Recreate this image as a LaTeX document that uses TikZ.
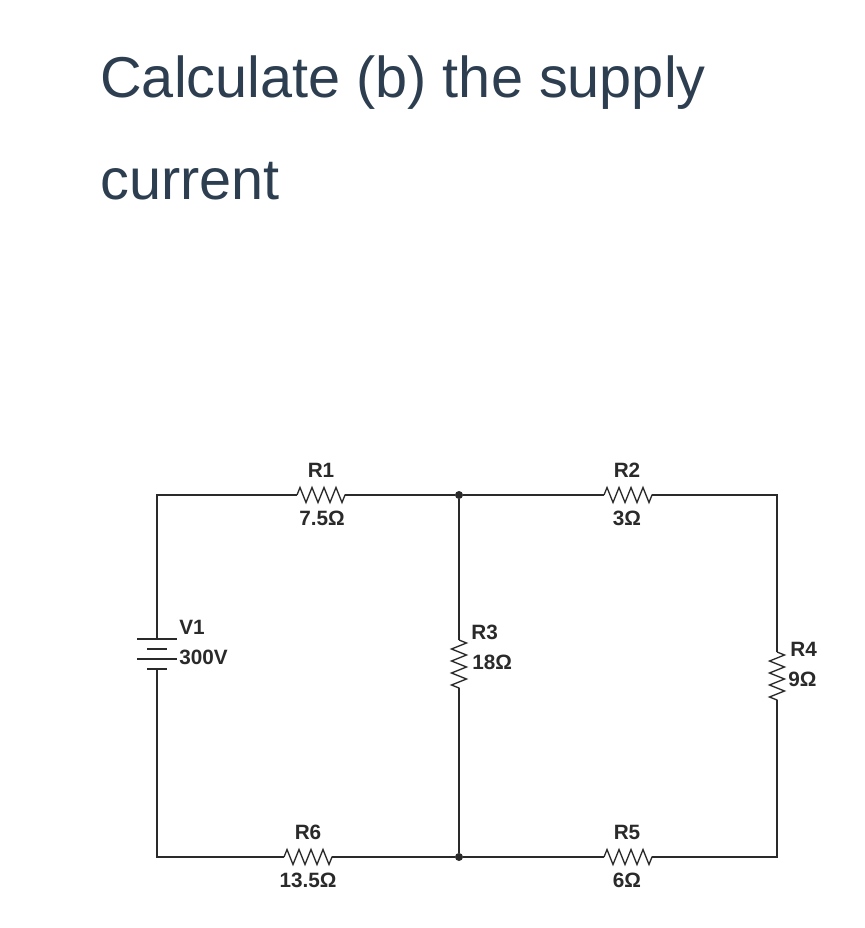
\documentclass[tikz,border=0pt]{standalone}
\usepackage{fontspec}
\setmainfont{Liberation Sans}
\usetikzlibrary{calc,decorations.pathmorphing}
\definecolor{headcolor}{HTML}{2C3E50}
\definecolor{wirecolor}{HTML}{2A2A2A}
\tikzstyle{ptlabel} = [inner sep=0pt, color=wirecolor, font={\fontsize{11.8pt}{14pt}\selectfont\bfseries}]
\tikzstyle{headline} = [anchor=base west, inner sep=0pt, color=headcolor, font={\fontsize{32.8pt}{38pt}\selectfont}]
\tikzstyle{wire} = [draw=wirecolor, line width=0.75pt]
\tikzstyle{resistor} = [wire, decorate, decoration={zigzag, segment length=0.24cm, amplitude=0.15cm}]
\tikzstyle{junction} = [circle, fill=wirecolor, inner sep=0pt, minimum size=0.16cm]

\begin{document}
\begin{tikzpicture}[x=0.02cm, y=-0.02cm]
  \useasboundingbox (0,0) rectangle (864,928);

  % heading
  \node[at={(100,98)}, headline] (line1) {Calculate (b) the supply};
  \node[at={(100,200)}, headline] (line2) {current};

  % corners and junctions
  \coordinate (tl) at (157,495);
  \coordinate (tr) at (777,495);
  \coordinate (bl) at (157,857);
  \coordinate (br) at (777,857);
  \node[at={(459,495)}, junction] (jt) {};
  \node[at={(459,857)}, junction] (jb) {};

  % resistor ends
  \coordinate (r1a) at (297,495);
  \coordinate (r1b) at (345,495);
  \coordinate (r2a) at (604,495);
  \coordinate (r2b) at (652,495);
  \coordinate (r3a) at (459,640);
  \coordinate (r3b) at (459,688);
  \coordinate (r4a) at (777,652);
  \coordinate (r4b) at (777,700);
  \coordinate (r5a) at (604,857);
  \coordinate (r5b) at (652,857);
  \coordinate (r6a) at (284,857);
  \coordinate (r6b) at (332,857);

  % battery plates
  \coordinate (v1a) at (157,639);
  \coordinate (v1b) at (157,669);
  \draw[wire] (137,639) -- (177,639);
  \draw[wire] (147,649) -- (167,649);
  \draw[wire] (137,659) -- (177,659);
  \draw[wire] (147,669) -- (167,669);

  % wires
  \draw[wire] (v1a) -- (tl) -- (r1a);
  \draw[resistor] (r1a) -- (r1b);
  \draw[wire] (r1b) -- (jt) -- (r2a);
  \draw[resistor] (r2a) -- (r2b);
  \draw[wire] (r2b) -- (tr) -- (r4a);
  \draw[resistor] (r4a) -- (r4b);
  \draw[wire] (r4b) -- (br) -- (r5b);
  \draw[resistor] (r5a) -- (r5b);
  \draw[wire] (r5a) -- (jb) -- (r6b);
  \draw[resistor] (r6a) -- (r6b);
  \draw[wire] (r6a) -- (bl) -- (v1b);
  \draw[wire] (jt) -- (r3a);
  \draw[resistor] (r3a) -- (r3b);
  \draw[wire] (r3b) -- (jb);

  % labels
  \node[at={(321,470)}, ptlabel] (r1name) {R1};
  \node[at={(322,518)}, ptlabel] (r1val) {7.5Ω};
  \node[at={(627,470)}, ptlabel] (r2name) {R2};
  \node[at={(627,518)}, ptlabel] (r2val) {3Ω};
  \node[at={(471,632)}, anchor=west, ptlabel] (r3name) {R3};
  \node[at={(472,662)}, anchor=west, ptlabel] (r3val) {18Ω};
  \node[at={(790,649)}, anchor=west, ptlabel] (r4name) {R4};
  \node[at={(788,679)}, anchor=west, ptlabel] (r4val) {9Ω};
  \node[at={(627,832)}, ptlabel] (r5name) {R5};
  \node[at={(627,880)}, ptlabel] (r5val) {6Ω};
  \node[at={(308,832)}, ptlabel] (r6name) {R6};
  \node[at={(308,880)}, ptlabel] (r6val) {13.5Ω};
  \node[at={(179,627)}, anchor=west, ptlabel] (v1name) {V1};
  \node[at={(179,657)}, anchor=west, ptlabel] (v1val) {300V};
\end{tikzpicture}
\end{document}
